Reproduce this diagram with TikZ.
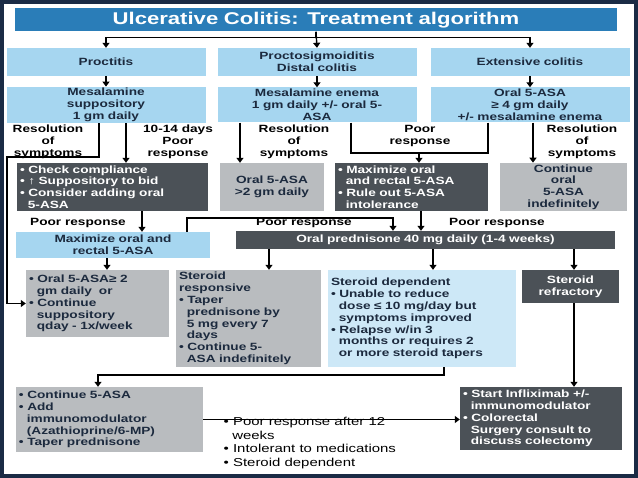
\documentclass[tikz,border=0pt]{standalone}
\usepackage{fontspec}
\setmainfont{Liberation Sans}[FakeStretch=1.3]
\usetikzlibrary{arrows.meta}
\definecolor{navy}{HTML}{1A2B45}
\definecolor{tblue}{HTML}{2A7DB8}
\definecolor{hblue}{HTML}{A6D6F0}
\definecolor{pblue}{HTML}{CDE8F7}
\definecolor{dgray}{HTML}{4B5157}
\definecolor{lgray}{HTML}{B9BCBF}
\definecolor{ink}{HTML}{1C2A3E}
\tikzset{
  every node/.style={font=\bfseries\fontsize{10.5}{11.8}\selectfont, inner sep=1.5pt},
  boxb/.style={draw=none, minimum width=#1, text width=#1-6, align=center},
  hdr/.style={fill=hblue, text=ink},
  drk/.style={fill=dgray, text=white},
  lgr/.style={fill=lgray, text=ink},
  pbl/.style={fill=pblue, text=ink},
  lbl/.style={text=black, align=center},
  ln/.style={line width=1.4pt, draw=black},
  arr/.style={ln, -{Triangle[length=5pt,width=7pt]}},
}
\newcommand{\bl}{\textbullet\ }
\newcommand{\ci}{\hspace*{0.75em}}
\begin{document}
\begin{tikzpicture}[x=1pt,y=-1pt]
\fill[white] (0,0) rectangle (638,478);
\useasboundingbox (0,0) rectangle (638,478);
\draw[navy, line width=4pt] (2,2) rectangle (636,476);

\node[boxb=602, fill=tblue, text=white, minimum height=23, font=\bfseries\fontsize{17}{19}\selectfont] (title) at (316,20) {Ulcerative Colitis: Treatment algorithm};

\node[boxb=199, hdr, minimum height=28] (p1) at (106,62) {Proctitis};
\node[boxb=199, hdr, minimum height=28] (p2) at (317,62) {Proctosigmoiditis\\Distal colitis};
\node[boxb=199, hdr, minimum height=28] (p3) at (530,62) {Extensive colitis};

\node[boxb=199, hdr, minimum height=35] (m1) at (106,105) {Mesalamine\\suppository\\1 gm daily};
\node[boxb=199, hdr, minimum height=35] (m2) at (317,105) {Mesalamine enema\\1 gm daily +/- oral 5-\\ASA};
\node[boxb=199, hdr, minimum height=35] (m3) at (530,105) {Oral 5-ASA\\≥ 4 gm daily\\+/- mesalamine enema};

\node[lbl] (l1) at (48,142) {Resolution\\of\\symptoms};
\node[lbl] (l2) at (178,142) {10-14 days\\Poor\\response};
\node[lbl] (l3) at (294,142) {Resolution\\of\\symptoms};
\node[lbl] (l4) at (420,136) {Poor\\response};
\node[lbl] (l5) at (582,142) {Resolution\\of\\symptoms};

\node[boxb=191, drk, minimum height=48, align=left] (d1) at (112.5,187) {\bl Check compliance\\\bl ↑ Suppository to bid\\\bl Consider adding oral\\\ci 5-ASA};
\node[boxb=104, lgr, minimum height=48] (d2) at (272,187) {Oral 5-ASA\\>2 gm daily};
\node[boxb=153, drk, minimum height=48, align=left] (d3) at (411.5,187) {\bl Maximize oral\\\ci and rectal 5-ASA\\\bl Rule out 5-ASA\\\ci intolerance};
\node[boxb=127, lgr, minimum height=48] (d4) at (563.5,187) {Continue\\oral\\5-ASA\\indefinitely};

\node[lbl] (pr1) at (78,223) {Poor response};
\node[lbl] (pr2) at (304,223) {Poor response};
\node[lbl] (pr3) at (497,223) {Poor response};

\node[boxb=194, hdr, minimum height=26] (mx) at (113,245) {Maximize oral and\\rectal 5-ASA};
\node[boxb=379, drk, minimum height=18] (pred) at (425.5,240) {Oral prednisone 40 mg daily (1-4 weeks)};

\node[boxb=143, lgr, minimum height=67, align=left] (o2) at (97.5,303.5) {\bl Oral 5-ASA≥ 2\\\ci gm daily\ \ or\\\bl Continue\\\ci suppository\\\ci qday - 1x/week};
\node[boxb=145, lgr, minimum height=97, align=left] (sr) at (248.5,318.5) {Steroid\\responsive\\\bl Taper\\\ci prednisone by\\\ci 5 mg every 7\\\ci days\\\bl Continue 5-\\\ci ASA indefinitely};
\node[boxb=188, pbl, minimum height=97, align=left] (sd) at (422,318.5) {Steroid dependent\\\bl Unable to reduce\\\ci dose ≤ 10 mg/day but\\\ci symptoms improved\\\bl Relapse w/in 3\\\ci months or requires 2\\\ci or more steroid tapers};
\node[boxb=97, drk, minimum height=33] (rf) at (570.5,286.5) {Steroid\\refractory};

\node[boxb=187, lgr, minimum height=65, align=left] (c5) at (109.5,419.5) {\bl Continue 5-ASA\\\bl Add\\\ci immunomodulator\\\ci (Azathioprine/6-MP)\\\bl Taper prednisone};
\node[boxb=162, drk, minimum height=63, align=left] (inf) at (541,418.5) {\bl Start Infliximab +/-\\\ci immunomodulator\\\bl Colorectal\\\ci Surgery consult to\\\ci discuss colectomy};
\node[lbl, anchor=west, align=left, font=\fontsize{11.5}{13.5}\selectfont] (bt) at (222,443) {\bl Poor response after 12\\\ci weeks\\\bl Intolerant to medications\\\bl Steroid dependent};

% connectors
\draw[arr] (title.south) -- (p2.north);
\draw[arr] (title.south) -- ++(0,6) -| (p1.north);
\draw[arr] (title.south) -- ++(0,6) -| (p3.north);
\draw[arr] (p1) -- (m1);
\draw[arr] (p2) -- (m2);
\draw[arr] (p3) -- (m3);
\coordinate (lc) at (7,157);
\draw[arr] (99,0 |- m1.south) |- (lc) |- (o2.west);
\draw[arr] (126,0 |- m1.south) -- (126,0 |- d1.north);
\draw[arr] (240,0 |- m2.south) -- (240,0 |- d2.north);
\coordinate (j1) at (419,153);
\draw[ln] (351,0 |- m2.south) |- (j1);
\draw[ln] (488,0 |- m3.south) |- (j1);
\draw[arr] (j1) -- (419,0 |- d3.north);
\draw[arr] (533,0 |- m3.south) -- (533,0 |- d4.north);
\draw[arr] (142,0 |- d1.south) -- (142,0 |- mx.north);
\coordinate (j2) at (393,218);
\draw[arr] (187,0 |- mx.north) |- (j2) -- (393,0 |- pred.north);
\draw[arr] (421,0 |- d3.south) -- (421,0 |- pred.north);
\draw[arr] (107,0 |- mx.south) -- (107,0 |- o2.north);
\draw[arr] (269,0 |- pred.south) -- (269,0 |- sr.north);
\draw[arr] (433,0 |- pred.south) -- (433,0 |- sd.north);
\draw[arr] (574,0 |- pred.south) -- (574,0 |- rf.north);
\coordinate (j3) at (98,375);
\draw[arr] (444,0 |- sd.south) |- (j3) -- (98,0 |- c5.north);
\draw[arr] (574,0 |- rf.south) -- (574,0 |- inf.north);
\draw[arr] (c5.east) -- (c5.east -| inf.west);
\end{tikzpicture}
\end{document}
